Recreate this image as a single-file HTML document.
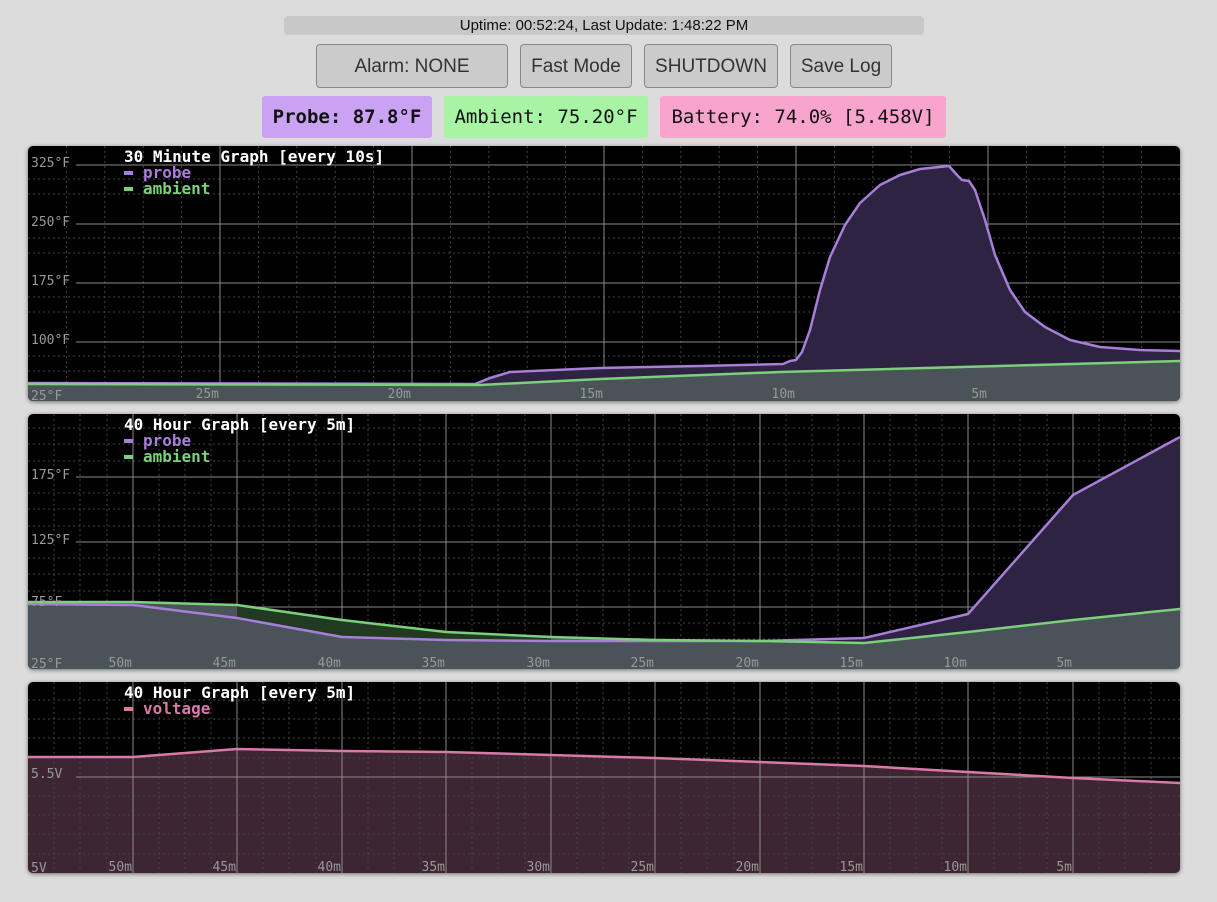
<!DOCTYPE html>
<html><head><meta charset="utf-8"><style>
body{margin:0;width:1217px;height:902px;background:#dcdcdc;font-family:"Liberation Sans",sans-serif;position:relative;overflow:hidden}
.abs{position:absolute}
.up{left:284px;top:16px;width:640px;height:19px;background:#c8c8c8;border-radius:4px;text-align:center;font-size:15px;line-height:19px;color:#111}
.btn{top:44px;height:44px;background:#cbcbcb;border:1px solid #888;border-radius:4px;box-sizing:border-box;font-size:19px;line-height:44px;text-align:center;color:#333}
.st{top:96px;height:42px;border-radius:3px;font-family:"DejaVu Sans Mono",monospace;font-size:19px;line-height:42px;text-align:center;color:#111}
svg{position:absolute;border-radius:5px;box-shadow:0 1px 4px rgba(0,0,0,.5)}
svg text{font-family:"DejaVu Sans Mono",monospace}
</style></head><body>
<div class="abs up">Uptime: 00:52:24, Last Update: 1:48:22 PM</div>
<div class="abs btn" style="left:316px;width:192px">Alarm: NONE</div>
<div class="abs btn" style="left:520px;width:112px">Fast Mode</div>
<div class="abs btn" style="left:644px;width:134px">SHUTDOWN</div>
<div class="abs btn" style="left:790px;width:102px">Save Log</div>
<div class="abs st" style="left:262px;width:170px;background:#caa2f4;font-weight:bold">Probe: 87.8°F</div>
<div class="abs st" style="left:444px;width:204px;background:#a6f4a4">Ambient: 75.20°F</div>
<div class="abs st" style="left:660px;width:286px;background:#f8a4cc">Battery: 74.0% [5.458V]</div>

<!-- Chart 1 -->
<svg style="left:28px;top:146px" width="1152" height="255" viewBox="28 146 1152 255">
<rect x="28" y="146" width="1152" height="255" fill="#000"/>
<g stroke="#444" stroke-width="1" stroke-dasharray="2,3">
<path d="M66.4 146V401M104.8 146V401M143.2 146V401M181.6 146V401M258.4 146V401M296.8 146V401M335.2 146V401M373.6 146V401M450.4 146V401M488.8 146V401M527.2 146V401M565.6 146V401M642.4 146V401M680.8 146V401M719.2 146V401M757.6 146V401M834.4 146V401M872.8 146V401M911.2 146V401M949.6 146V401M1026.4 146V401M1064.8 146V401M1103.2 146V401M1141.6 146V401"/>
<path d="M28 194H1180M28 253H1180M28 312H1180M28 371H1180M28 179H1180M28 238H1180M28 297H1180M28 356H1180M28 386H1180"/>
</g>
<g stroke="#8a8a8a" stroke-width="1"><path d="M220 146V401M412 146V401M604 146V401M796 146V401M988 146V401M76 165H1180M76 224H1180M76 283H1180M76 342H1180"/></g>
<path d="M28 383L475 384L490 378L510 372L600 368L700 366L783 364L790 361L796 360L802 352L810 330L820 290L830 257L845 225L860 203L880 185L900 175L920 169L949 166L957 175L962 180L969 181L975 190L985 220L995 255L1010 290L1025 312L1045 327L1070 340L1100 347L1140 350L1180 351L1180 401L28 401Z" fill="#2e2340"/>
<path d="M28 384L480 385L600 379L780 372L1180 361L1180 401L28 401Z" fill="#4a5358"/>
<path d="M28 383L475 384L490 378L510 372L600 368L700 366L783 364L790 361L796 360L802 352L810 330L820 290L830 257L845 225L860 203L880 185L900 175L920 169L949 166L957 175L962 180L969 181L975 190L985 220L995 255L1010 290L1025 312L1045 327L1070 340L1100 347L1140 350L1180 351" fill="none" stroke="#a77fd8" stroke-width="2.5" stroke-linejoin="round"/>
<path d="M28 384L480 385L600 379L780 372L1180 361" fill="none" stroke="#7ccf7c" stroke-width="2.5"/>
<g fill="#999" font-size="13"><text x="31" y="167">325°F</text><text x="31" y="226">250°F</text><text x="31" y="285">175°F</text><text x="31" y="344">100°F</text><text x="31" y="400">25°F</text>
<text x="219" y="398" text-anchor="end">25m</text><text x="411" y="398" text-anchor="end">20m</text><text x="603" y="398" text-anchor="end">15m</text><text x="795" y="398" text-anchor="end">10m</text><text x="987" y="398" text-anchor="end">5m</text></g>
<text x="124" y="162" fill="#fff" font-size="16" font-weight="bold">30 Minute Graph [every 10s]</text>
<rect x="124" y="171" width="9" height="4" fill="#a77fd8"/><text x="143" y="178" fill="#a77fd8" font-size="16" font-weight="bold">probe</text>
<rect x="124" y="187" width="9" height="4" fill="#7ccf7c"/><text x="143" y="194" fill="#7ccf7c" font-size="16" font-weight="bold">ambient</text>
</svg>

<!-- Chart 2 -->
<svg style="left:28px;top:414px" width="1152" height="255" viewBox="28 414 1152 255">
<rect x="28" y="414" width="1152" height="255" fill="#000"/>
<g stroke="#444" stroke-width="1" stroke-dasharray="2,3">
<path d="M54 414V669M80 414V669M107 414V669M159 414V669M185 414V669M211 414V669M263 414V669M289 414V669M316 414V669M368 414V669M394 414V669M420 414V669M472 414V669M498 414V669M525 414V669M577 414V669M603 414V669M629 414V669M681 414V669M707 414V669M734 414V669M786 414V669M812 414V669M838 414V669M890 414V669M916 414V669M942 414V669M994 414V669M1020 414V669M1047 414V669M1099 414V669M1125 414V669M1151 414V669"/>
<path d="M28 444H1180M28 461H1180M28 493H1180M28 509H1180M28 526H1180M28 558H1180M28 574H1180M28 591H1180M28 623H1180M28 639H1180M28 656H1180M28 428H1180"/>
</g>
<g stroke="#8a8a8a" stroke-width="1"><path d="M133 414V669M237 414V669M342 414V669M446 414V669M551 414V669M655 414V669M760 414V669M864 414V669M968 414V669M1073 414V669M76 477H1180M76 542H1180M76 607H1180"/></g>
<path d="M28 604L133 605L237 618L342 637L446 640L551 641L655 641L760 641L864 638L968 614L1073 495L1180 437L1180 669L28 669Z" fill="#2e2340"/>
<path d="M28 602L133 602L237 605L342 620L446 632L551 637L655 640L760 641L864 643L968 632L1073 620L1180 609L1180 669L28 669Z" fill="#4a5358"/>
<path d="M237 618L342 637L446 640L551 641L551 637L446 632L342 620L237 605Z" fill="#213a21"/>
<path d="M28 604L133 605L237 618L342 637L446 640L551 641L655 641L760 641L864 638L968 614L1073 495L1180 437" fill="none" stroke="#a77fd8" stroke-width="2.5"/>
<path d="M28 602L133 602L237 605L342 620L446 632L551 637L655 640L760 641L864 643L968 632L1073 620L1180 609" fill="none" stroke="#7ccf7c" stroke-width="2.5"/>
<g fill="#999" font-size="13"><text x="31" y="479">175°F</text><text x="31" y="544">125°F</text><text x="31" y="606">75°F</text><text x="31" y="668">25°F</text>
<text x="132" y="667" text-anchor="end">50m</text><text x="236" y="667" text-anchor="end">45m</text><text x="341" y="667" text-anchor="end">40m</text><text x="445" y="667" text-anchor="end">35m</text><text x="550" y="667" text-anchor="end">30m</text><text x="654" y="667" text-anchor="end">25m</text><text x="759" y="667" text-anchor="end">20m</text><text x="863" y="667" text-anchor="end">15m</text><text x="967" y="667" text-anchor="end">10m</text><text x="1072" y="667" text-anchor="end">5m</text></g>
<text x="124" y="430" fill="#fff" font-size="16" font-weight="bold">40 Hour Graph [every 5m]</text>
<rect x="124" y="439" width="9" height="4" fill="#a77fd8"/><text x="143" y="446" fill="#a77fd8" font-size="16" font-weight="bold">probe</text>
<rect x="124" y="455" width="9" height="4" fill="#7ccf7c"/><text x="143" y="462" fill="#7ccf7c" font-size="16" font-weight="bold">ambient</text>
</svg>

<!-- Chart 3 -->
<svg style="left:28px;top:682px" width="1152" height="191" viewBox="28 682 1152 191">
<rect x="28" y="682" width="1152" height="191" fill="#000"/>
<path d="M28 757L133 757L237 749L342 751L446 752L551 755L655 758L760 762L864 766L968 772L1073 778L1180 783L1180 873L28 873Z" fill="#3d2533"/>
<g stroke="#444" stroke-width="1" stroke-dasharray="2,3">
<path d="M54 682V873M80 682V873M107 682V873M159 682V873M185 682V873M211 682V873M263 682V873M289 682V873M316 682V873M368 682V873M394 682V873M420 682V873M472 682V873M498 682V873M525 682V873M577 682V873M603 682V873M629 682V873M681 682V873M707 682V873M734 682V873M786 682V873M812 682V873M838 682V873M890 682V873M916 682V873M942 682V873M994 682V873M1020 682V873M1047 682V873M1099 682V873M1125 682V873M1151 682V873"/>
<path d="M28 700H1180M28 719H1180M28 738H1180M28 758H1180M28 796H1180M28 815H1180M28 834H1180M28 854H1180"/>
</g>
<g stroke="#8a8a8a" stroke-width="1"><path d="M133 682V873M237 682V873M342 682V873M446 682V873M551 682V873M655 682V873M760 682V873M864 682V873M968 682V873M1073 682V873M76 777H1180"/></g>
<path d="M28 757L133 757L237 749L342 751L446 752L551 755L655 758L760 762L864 766L968 772L1073 778L1180 783" fill="none" stroke="#d87aa8" stroke-width="2.5"/>
<g fill="#999" font-size="13"><text x="31" y="778">5.5V</text><text x="31" y="872">5V</text>
<text x="132" y="871" text-anchor="end">50m</text><text x="236" y="871" text-anchor="end">45m</text><text x="341" y="871" text-anchor="end">40m</text><text x="445" y="871" text-anchor="end">35m</text><text x="550" y="871" text-anchor="end">30m</text><text x="654" y="871" text-anchor="end">25m</text><text x="759" y="871" text-anchor="end">20m</text><text x="863" y="871" text-anchor="end">15m</text><text x="967" y="871" text-anchor="end">10m</text><text x="1072" y="871" text-anchor="end">5m</text></g>
<text x="124" y="698" fill="#fff" font-size="16" font-weight="bold">40 Hour Graph [every 5m]</text>
<rect x="124" y="707" width="9" height="4" fill="#d87aa8"/><text x="143" y="714" fill="#d87aa8" font-size="16" font-weight="bold">voltage</text>
</svg>
</body></html>
